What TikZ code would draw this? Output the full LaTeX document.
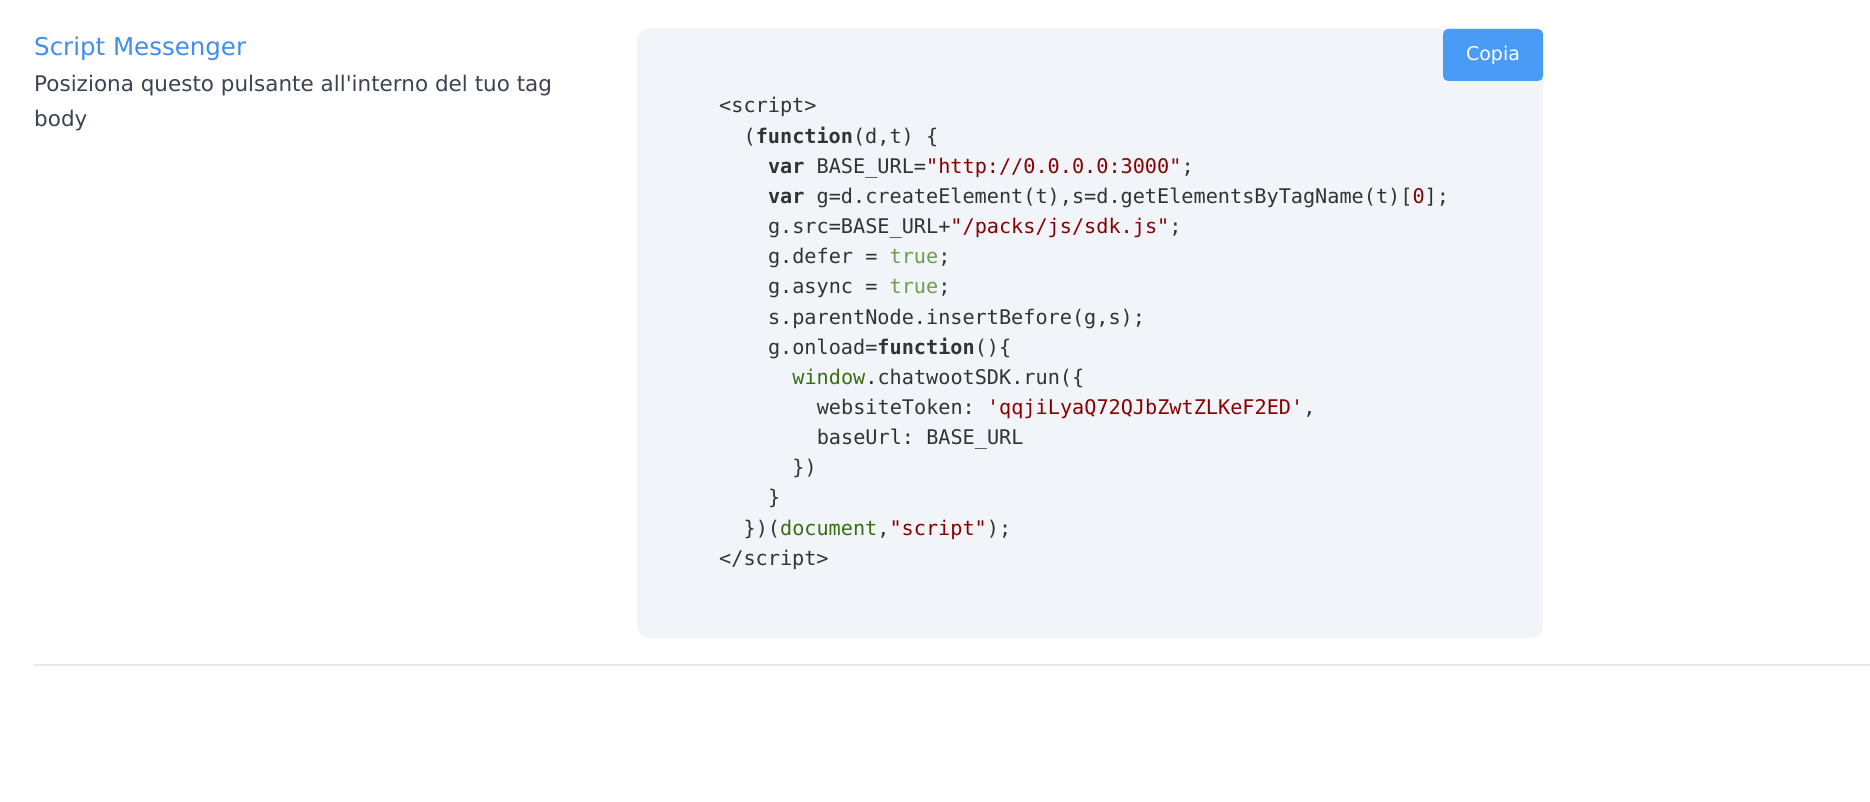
\documentclass[tikz,border=0pt]{standalone}
\usepackage{fontspec}
\setmainfont{DejaVu Sans}
\setmonofont{DejaVu Sans Mono}
\definecolor{bg}{HTML}{F1F4F8}
\definecolor{btn}{HTML}{4A9BF6}
\definecolor{ttl}{HTML}{3F8EF0}
\definecolor{desc}{HTML}{3A4454}
\definecolor{code}{HTML}{333333}
\definecolor{str}{HTML}{880000}
\definecolor{lit}{HTML}{6E9E50}
\definecolor{obj}{HTML}{3A6E12}
\definecolor{rule}{HTML}{E6E8EC}
\newcommand{\kw}[1]{\textbf{#1}}
\newcommand{\sx}[1]{\textcolor{str}{#1}}
\newcommand{\lt}[1]{\textcolor{lit}{#1}}
\newcommand{\ob}[1]{\textcolor{obj}{#1}}
\begin{document}
\begin{tikzpicture}[x=1pt,y=-1pt,
  cl/.style={anchor=base west,inner sep=0pt,font=\ttfamily\fontsize{20.2}{24}\selectfont,text=code}]
\useasboundingbox[fill=white] (0,0) rectangle (1870,802);
\fill[bg,rounded corners=12pt] (637,28) rectangle (1543,638);
\node[fill=btn,rounded corners=5pt,minimum width=100pt,minimum height=52pt,inner sep=0pt,text=white,font=\fontsize{19}{24}\selectfont] (copy) at (1493,55) {Copia};
\node[anchor=base west,inner sep=0pt,text=ttl,font=\fontsize{24.5}{28}\selectfont] (title) at (34,56) {Script Messenger};
\node[anchor=base west,inner sep=0pt,text=desc,font=\fontsize{21.5}{25}\selectfont] (d1) at (34,92) {Posiziona questo pulsante all\textquotesingle interno del tuo tag};
\node[anchor=base west,inner sep=0pt,text=desc,font=\fontsize{21.5}{25}\selectfont] (d2) at (34,127) {body};
\draw[rule,line width=1.5pt] (34,665) -- (1870,665);
\def\b{113}\def\s{30.15}
\node[cl] (l0) at (719,\b) {<script>};
\node[cl] (l1) at (743.4,\b+\s) {(\kw{function}(d,t) \{};
\node[cl] (l2) at (767.8,\b+2*\s) {\kw{var} BASE\_URL=\sx{"http://0.0.0.0:3000"};};
\node[cl] (l3) at (767.8,\b+3*\s) {\kw{var} g=d.createElement(t),s=d.getElementsByTagName(t)[\sx{0}];};
\node[cl] (l4) at (767.8,\b+4*\s) {g.src=BASE\_URL+\sx{"/packs/js/sdk.js"};};
\node[cl] (l5) at (767.8,\b+5*\s) {g.defer = \lt{true};};
\node[cl] (l6) at (767.8,\b+6*\s) {g.async = \lt{true};};
\node[cl] (l7) at (767.8,\b+7*\s) {s.parentNode.insertBefore(g,s);};
\node[cl] (l8) at (767.8,\b+8*\s) {g.onload=\kw{function}()\{};
\node[cl] (l9) at (792.2,\b+9*\s) {\ob{window}.chatwootSDK.run(\{};
\node[cl] (l10) at (816.6,\b+10*\s) {websiteToken: \sx{\textquotesingle qqjiLyaQ72QJbZwtZLKeF2ED\textquotesingle},};
\node[cl] (l11) at (816.6,\b+11*\s) {baseUrl: BASE\_URL};
\node[cl] (l12) at (792.2,\b+12*\s) {\})};
\node[cl] (l13) at (767.8,\b+13*\s) {\}};
\node[cl] (l14) at (743.4,\b+14*\s) {\})(\ob{document},\sx{"script"});};
\node[cl] (l15) at (719,\b+15*\s) {</script>};
\end{tikzpicture}
\end{document}
